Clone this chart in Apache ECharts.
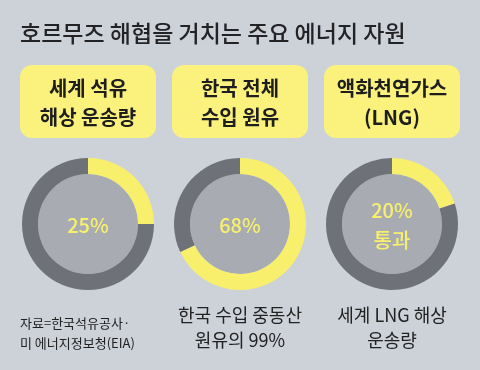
<!DOCTYPE html>
<html><head><meta charset="utf-8">
<script src="https://cdn.jsdelivr.net/npm/echarts@6/dist/echarts.min.js"></script>
<style>html,body{margin:0;padding:0;background:#cdd1d8;}#c{width:480px;height:370px;}</style>
</head><body><div id="c"></div>
<script>
const title = '호르무즈 해협을 거치는 주요 에너지 자원';
const boxTitles = ['세계 석유\n해상 운송량', '한국 전체\n수입 원유', '액화천연가스\n(LNG)'];
const shares = [25, 68, 20];
const centerLabels = ['25%', '68%', '20%\n통과'];
const notes = ['', '한국 수입 중동산\n원유의 99%', '세계 LNG 해상\n운송량'];
const source = '자료=한국석유공사·\n미 에너지정보청(EIA)';

const FONT = '"Noto Sans CJK KR", "Noto Sans", sans-serif';
const YEL = '#f8f06c', RING = '#6e7278', INNER = '#a8acb2', BOXY = '#fbf27e';
const cx = [88, 240, 392], cy = 224;

const series = [];
shares.forEach((v, i) => {
  series.push({
    type: 'pie', center: [cx[i], cy], radius: [0, 50], silent: true, z: 1,
    label: {show: false}, labelLine: {show: false},
    itemStyle: {color: INNER},
    data: [{value: 1}]
  });
  series.push({
    type: 'pie', center: [cx[i], cy], radius: [50, 66], silent: true, z: 2,
    startAngle: 90, clockwise: true,
    label: {show: false}, labelLine: {show: false},
    itemStyle: {borderWidth: 0},
    data: [
      {value: v, itemStyle: {color: YEL}},
      {value: 100 - v, itemStyle: {color: RING}}
    ]
  });
});

const graphic = [
  {type: 'text', x: 20, y: 33, style: {text: title, font: '500 23px ' + FONT, fill: '#232325', verticalAlign: 'middle'}}
];
boxTitles.forEach((t, i) => {
  graphic.push({type: 'rect', shape: {x: cx[i] - 68, y: 65, width: 136, height: 73, r: 12}, style: {fill: BOXY}});
  graphic.push({type: 'text', x: cx[i], y: 103, style: {text: t, font: '700 20px ' + FONT, fill: '#1e1e1e', align: 'center', verticalAlign: 'middle', lineHeight: 29}});
  graphic.push({type: 'text', x: cx[i], y: cy + 1, z: 10, style: {text: centerLabels[i], font: '500 20px ' + FONT, fill: YEL, align: 'center', verticalAlign: 'middle', lineHeight: 30}});
  if (notes[i]) graphic.push({type: 'text', x: cx[i], y: 328, style: {text: notes[i], font: '400 18px ' + FONT, fill: '#222', align: 'center', verticalAlign: 'middle', lineHeight: 25}});
});
graphic.push({type: 'text', left: 20, top: 313, style: {text: source, font: '400 13px ' + FONT, fill: '#222', lineHeight: 20}});

const chart = echarts.init(document.getElementById('c'), null, {renderer: 'canvas'});
chart.setOption({backgroundColor: '#cdd1d8', animation: false, series: series, graphic: graphic});
</script></body></html>
